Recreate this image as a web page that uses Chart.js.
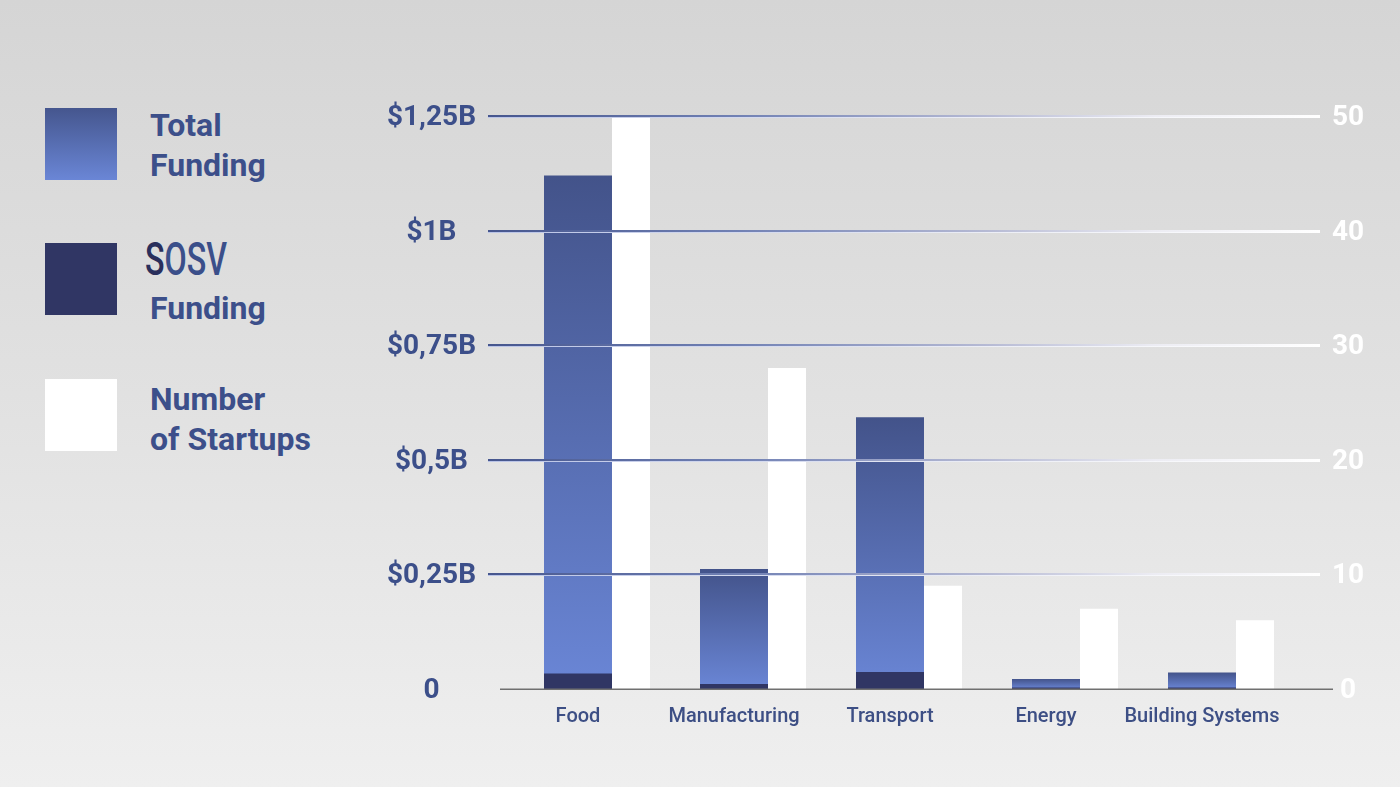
<!DOCTYPE html>
<html>
<head>
<meta charset="utf-8">
<script src="https://cdn.jsdelivr.net/npm/chart.js@4.4.1/dist/chart.umd.min.js"></script>
<style>
html,body{margin:0;padding:0;width:1400px;height:787px;overflow:hidden;}
body{background:linear-gradient(to bottom,#d5d5d5 0%,#e1e1e1 50%,#efefef 100%);font-family:Roboto,"DejaVu Sans",sans-serif;position:relative;}
#wrap{position:absolute;left:0;top:0;width:1400px;height:787px;}
.sw{position:absolute;left:45px;width:72px;height:72px;}
.lt{position:absolute;left:150px;color:#3c4f8a;font-weight:700;font-size:32px;line-height:40px;white-space:nowrap;}
.logo{position:absolute;left:145px;top:236px;font-family:Roboto,sans-serif;font-weight:500;font-size:46px;line-height:46px;color:#3b4f8a;transform:scaleX(0.7);transform-origin:left top;letter-spacing:0px;}
.logo span{color:#2a2f5c;}
</style>
</head>
<body>
<div class="sw" style="top:108px;background:linear-gradient(#45568e,#6a86d6)"></div>
<div class="lt" style="top:105px">Total<br>Funding</div>
<div class="sw" style="top:243px;background:#303664"></div>
<div class="logo"><span>S</span>OSV</div>
<div class="lt" style="top:288px">Funding</div>
<div class="sw" style="top:379px;background:#ffffff"></div>
<div class="lt" style="top:379px">Number<br>of Startups</div>
<div id="wrap"><canvas id="c" width="1400" height="787"></canvas></div>
<script>
const categories = ['Food', 'Manufacturing', 'Transport', 'Energy', 'Building Systems'];
const totalFunding = [1.12, 0.262, 0.593, 0.022, 0.036];   // $ billions
const sosvFunding = [0.034, 0.011, 0.037, 0.003, 0.003];   // $ billions
const startups = [50, 28, 9, 7, 6];
const fundingTicks = [0, 0.25, 0.5, 0.75, 1, 1.25];
const fundingTickLabels = ['0', '$0,25B', '$0,5B', '$0,75B', '$1B', '$1,25B'];
const startupTicks = [0, 10, 20, 30, 40, 50];
const startupTickLabels = ['0', '10', '20', '30', '40', '50'];

const textBlue = '#3c4f8a';

const gridPlugin = {
  id: 'fancyGrid',
  afterDatasetsDraw(chart) {
    const {ctx, chartArea, scales} = chart;
    const y = scales.y;
    const x0 = chartArea.left - 12, x1 = chartArea.right + 40;
    ctx.save();
    const g = ctx.createLinearGradient(x0, 0, x1, 0);
    g.addColorStop(0, '#46568e');
    g.addColorStop(0.3, '#7181b4');
    g.addColorStop(0.6, '#b6bad4');
    g.addColorStop(0.8, '#ececf3');
    g.addColorStop(1, '#ffffff');
    const g2 = ctx.createLinearGradient(x0, 0, x1, 0);
    g2.addColorStop(0, '#b9c3e6');
    g2.addColorStop(0.6, '#eceef6');
    g2.addColorStop(1, '#ffffff');
    y.ticks.forEach(t => {
      if (t.value === 0) return;
      const py = Math.round(y.getPixelForValue(t.value));
      ctx.fillStyle = g;
      ctx.fillRect(x0, py - 1, x1 - x0, 2);
      ctx.fillStyle = g2;
      ctx.fillRect(x0, py + 1, x1 - x0, 1);
    });
    const by = Math.round(y.getPixelForValue(0));
    ctx.fillStyle = '#707070';
    ctx.fillRect(chartArea.left, by - 0.5, chartArea.right + 53 - chartArea.left, 1.5);
    ctx.restore();
  }
};

function totalGradient(ctx) {
  const chart = ctx.chart;
  if (!chart.chartArea || ctx.type !== 'data') return '#5568a8';
  const ys = chart.scales.y;
  const top = ys.getPixelForValue(ctx.raw);
  const bot = ys.getPixelForValue(0);
  const g = chart.ctx.createLinearGradient(0, top, 0, Math.max(bot, top + 1));
  g.addColorStop(0, '#43538a');
  g.addColorStop(1, '#6a86d6');
  return g;
}

const CP = 1.0192;
new Chart(document.getElementById('c'), {
  type: 'bar',
  data: {
    labels: categories,
    datasets: [
      {label: '_spacer', data: categories.map(() => null), stack: 'pad', yAxisID: 'y', categoryPercentage: CP},
      {label: 'SOSV Funding', data: sosvFunding, stack: 'funding', yAxisID: 'y', backgroundColor: '#303664',
        barPercentage: 1.283, categoryPercentage: CP},
      {label: 'Total Funding', data: totalFunding, stack: 'funding', yAxisID: 'y', backgroundColor: totalGradient,
        barPercentage: 1.283, categoryPercentage: CP},
      {label: 'Number of Startups', data: startups, stack: 'startups', yAxisID: 'y1', backgroundColor: '#ffffff',
        barPercentage: 0.717, categoryPercentage: CP}
    ]
  },
  options: {
    responsive: false,
    animation: false,
    devicePixelRatio: 1,
    layout: {padding: {left: 380, right: 0, top: 116, bottom: 0}},
    plugins: {legend: {display: false}, tooltip: {enabled: false}},
    scales: {
      x: {
        stacked: true,
        grid: {display: false, drawTicks: false},
        border: {display: false},
        ticks: {padding: 16, color: '#3d4f85', autoSkip: false, maxRotation: 0,
          font: {family: 'Roboto', weight: '500', size: 20}},
        afterFit: s => { s.height = 98; }
      },
      y: {
        position: 'left',
        stacked: false,
        min: 0, max: 1.25,
        grid: {display: false, drawTicks: false},
        border: {display: false},
        afterBuildTicks: s => { s.ticks = fundingTicks.map(v => ({value: v})); },
        ticks: {crossAlign: 'center', padding: 24, labelOffset: 2, color: textBlue,
          font: {family: 'Roboto', weight: 'bold', size: 28},
          callback: v => fundingTickLabels[fundingTicks.indexOf(v)]},
        afterFit: s => { s.width = 120; }
      },
      y1: {
        position: 'right',
        stacked: false,
        min: 0, max: 50,
        grid: {display: false, drawTicks: false},
        border: {display: false},
        afterBuildTicks: s => { s.ticks = startupTicks.map(v => ({value: v})); },
        ticks: {crossAlign: 'center', padding: 52, labelOffset: 2, color: '#ffffff',
          font: {family: 'Roboto', weight: 'bold', size: 28},
          callback: v => startupTickLabels[startupTicks.indexOf(v)]},
        afterFit: s => { s.width = 120; }
      }
    }
  },
  plugins: [gridPlugin]
});
</script>
</body>
</html>
